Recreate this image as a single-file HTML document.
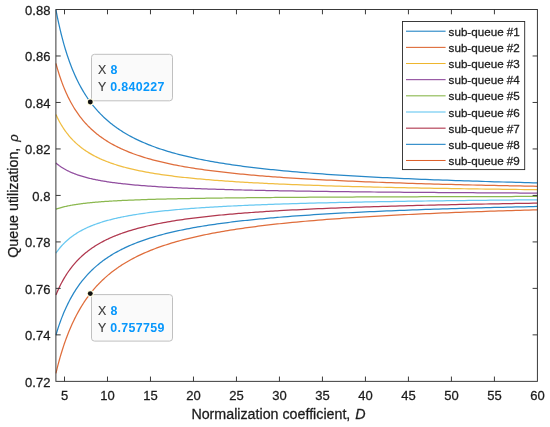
<!DOCTYPE html>
<html><head><meta charset="utf-8"><title>Queue utilization</title>
<style>
html,body{margin:0;padding:0;background:#fff}
svg{display:block}
text{font-family:"Liberation Sans",Arial,Helvetica,sans-serif;fill:#1c1c1c;stroke:#1c1c1c;stroke-width:0.28px}
.t{font-size:13.0px}
.l{font-size:14.25px}
.g{font-size:11.65px}
.d{font-size:12.4px;fill:#3a3a3a;stroke:#3a3a3a;stroke-width:0.15px}
.b{font-weight:bold;fill:#0797fc;stroke:none;letter-spacing:0.35px}
</style></head><body>
<svg width="550" height="427" viewBox="0 0 550 427">
<rect width="550" height="427" fill="#fff"/>
<g fill="none" stroke-width="1.25" stroke-opacity="0.85" stroke-linejoin="round" clip-path="url(#cp)">
<clipPath id="cp"><rect x="55.4" y="9.0" width="482.5" height="372.85"/></clipPath>

<polyline points="55.90,9.52 56.76,14.00 57.62,18.27 58.48,22.35 59.34,26.24 60.20,29.96 61.06,33.52 61.92,36.93 62.78,40.20 63.64,43.34 64.50,46.35 65.36,49.25 66.22,52.03 67.08,54.71 67.94,57.30 68.80,59.79 69.66,62.19 70.52,64.51 71.38,66.75 72.24,68.91 73.10,71.00 73.96,73.03 74.82,74.99 75.68,76.88 76.54,78.72 77.40,80.50 78.26,82.23 79.12,83.91 79.97,85.54 80.83,87.12 81.69,88.66 82.55,90.15 83.41,91.60 84.27,93.02 85.13,94.39 85.99,95.73 86.85,97.03 87.71,98.30 88.57,99.54 89.43,100.75 90.29,101.92 91.15,103.07 92.01,104.19 92.87,105.29 93.73,106.35 94.59,107.39 95.45,108.41 96.31,109.41 97.17,110.38 98.03,111.33 98.89,112.26 99.75,113.17 100.61,114.06 101.47,114.93 102.33,115.78 103.19,116.61 104.05,117.43 104.91,118.23 105.77,119.02 106.63,119.78 107.49,120.54 108.35,121.27 109.21,122.00 110.07,122.71 110.93,123.40 111.79,124.09 112.65,124.76 113.51,125.41 114.37,126.06 115.23,126.69 116.09,127.32 116.95,127.93 117.81,128.53 118.67,129.12 119.53,129.70 120.39,130.26 121.25,130.82 122.11,131.37 122.97,131.91 123.83,132.45 124.69,132.97 126.84,134.24 128.98,135.46 131.13,136.63 133.28,137.76 135.43,138.84 137.58,139.88 139.73,140.89 141.88,141.86 144.03,142.80 146.18,143.70 148.33,144.58 150.48,145.42 152.63,146.24 154.78,147.03 156.93,147.80 159.08,148.54 161.23,149.26 163.38,149.95 165.53,150.63 167.68,151.29 169.83,151.93 171.98,152.55 174.13,153.15 176.28,153.73 178.42,154.30 180.57,154.86 182.72,155.40 184.87,155.92 187.02,156.43 189.17,156.93 191.32,157.42 193.47,157.89 195.62,158.35 197.77,158.81 199.92,159.25 202.07,159.68 204.22,160.10 206.37,160.51 208.52,160.91 210.67,161.30 212.82,161.68 214.97,162.05 217.12,162.42 219.27,162.78 221.42,163.13 223.57,163.47 225.71,163.81 227.86,164.14 230.01,164.46 232.16,164.77 234.31,165.08 236.46,165.38 238.61,165.68 240.76,165.97 242.91,166.26 245.06,166.54 247.21,166.81 249.36,167.08 251.51,167.35 253.66,167.61 255.81,167.86 257.96,168.11 260.11,168.36 262.26,168.60 264.41,168.84 266.56,169.07 268.71,169.30 270.86,169.52 273.00,169.74 275.15,169.96 277.30,170.17 279.45,170.38 283.75,170.79 288.05,171.19 292.35,171.57 296.65,171.95 300.95,172.31 305.25,172.66 309.55,173.00 313.85,173.33 318.15,173.65 322.44,173.96 326.74,174.26 331.04,174.55 335.34,174.84 339.64,175.12 343.94,175.39 348.24,175.65 352.54,175.91 356.84,176.16 361.14,176.40 365.44,176.64 369.73,176.87 374.03,177.09 378.33,177.31 382.63,177.53 386.93,177.74 391.23,177.95 395.53,178.15 399.83,178.34 404.13,178.53 408.43,178.72 412.73,178.91 417.02,179.08 421.32,179.26 425.62,179.43 429.92,179.60 434.22,179.76 438.52,179.93 442.82,180.08 447.12,180.24 451.42,180.39 455.72,180.54 460.02,180.69 464.32,180.83 468.61,180.97 472.91,181.11 477.21,181.24 481.51,181.37 485.81,181.50 490.11,181.63 494.41,181.76 498.71,181.88 503.01,182.00 507.31,182.12 511.61,182.24 515.90,182.35 520.20,182.46 524.50,182.57 528.80,182.68 533.10,182.79 537.40,182.89" stroke="#0072BD"/>
<polyline points="55.90,63.38 56.76,66.48 57.62,69.44 58.48,72.27 59.34,74.97 60.20,77.56 61.06,80.04 61.92,82.41 62.78,84.69 63.64,86.88 64.50,88.99 65.36,91.01 66.22,92.96 67.08,94.84 67.94,96.65 68.80,98.40 69.66,100.08 70.52,101.71 71.38,103.28 72.24,104.80 73.10,106.28 73.96,107.70 74.82,109.08 75.68,110.42 76.54,111.71 77.40,112.97 78.26,114.19 79.12,115.38 79.97,116.53 80.83,117.65 81.69,118.73 82.55,119.79 83.41,120.82 84.27,121.82 85.13,122.79 85.99,123.74 86.85,124.66 87.71,125.57 88.57,126.44 89.43,127.30 90.29,128.13 91.15,128.95 92.01,129.74 92.87,130.52 93.73,131.28 94.59,132.02 95.45,132.75 96.31,133.45 97.17,134.14 98.03,134.82 98.89,135.48 99.75,136.13 100.61,136.76 101.47,137.38 102.33,137.99 103.19,138.59 104.05,139.17 104.91,139.74 105.77,140.30 106.63,140.85 107.49,141.38 108.35,141.91 109.21,142.43 110.07,142.94 110.93,143.43 111.79,143.92 112.65,144.40 113.51,144.87 114.37,145.33 115.23,145.78 116.09,146.23 116.95,146.67 117.81,147.09 118.67,147.52 119.53,147.93 120.39,148.34 121.25,148.74 122.11,149.13 122.97,149.52 123.83,149.90 124.69,150.28 126.84,151.19 128.98,152.06 131.13,152.90 133.28,153.71 135.43,154.48 137.58,155.23 139.73,155.96 141.88,156.65 144.03,157.33 146.18,157.98 148.33,158.60 150.48,159.21 152.63,159.80 154.78,160.37 156.93,160.92 159.08,161.45 161.23,161.97 163.38,162.47 165.53,162.96 167.68,163.43 169.83,163.89 171.98,164.34 174.13,164.77 176.28,165.20 178.42,165.61 180.57,166.01 182.72,166.39 184.87,166.77 187.02,167.14 189.17,167.50 191.32,167.85 193.47,168.19 195.62,168.53 197.77,168.85 199.92,169.17 202.07,169.48 204.22,169.78 206.37,170.08 208.52,170.37 210.67,170.65 212.82,170.93 214.97,171.20 217.12,171.46 219.27,171.72 221.42,171.98 223.57,172.22 225.71,172.47 227.86,172.70 230.01,172.94 232.16,173.16 234.31,173.39 236.46,173.61 238.61,173.82 240.76,174.03 242.91,174.24 245.06,174.44 247.21,174.64 249.36,174.83 251.51,175.03 253.66,175.21 255.81,175.40 257.96,175.58 260.11,175.76 262.26,175.93 264.41,176.10 266.56,176.27 268.71,176.44 270.86,176.60 273.00,176.76 275.15,176.92 277.30,177.07 279.45,177.22 283.75,177.52 288.05,177.81 292.35,178.09 296.65,178.36 300.95,178.62 305.25,178.87 309.55,179.12 313.85,179.36 318.15,179.59 322.44,179.81 326.74,180.03 331.04,180.24 335.34,180.45 339.64,180.65 343.94,180.85 348.24,181.04 352.54,181.23 356.84,181.41 361.14,181.58 365.44,181.76 369.73,181.92 374.03,182.09 378.33,182.25 382.63,182.41 386.93,182.56 391.23,182.71 395.53,182.85 399.83,182.99 404.13,183.13 408.43,183.27 412.73,183.40 417.02,183.53 421.32,183.66 425.62,183.79 429.92,183.91 434.22,184.03 438.52,184.14 442.82,184.26 447.12,184.37 451.42,184.48 455.72,184.59 460.02,184.70 464.32,184.80 468.61,184.90 472.91,185.00 477.21,185.10 481.51,185.20 485.81,185.29 490.11,185.38 494.41,185.47 498.71,185.56 503.01,185.65 507.31,185.74 511.61,185.82 515.90,185.91 520.20,185.99 524.50,186.07 528.80,186.15 533.10,186.22 537.40,186.30" stroke="#D95319"/>
<polyline points="55.90,114.48 56.76,116.34 57.62,118.11 58.48,119.80 59.34,121.42 60.20,122.97 61.06,124.46 61.92,125.89 62.78,127.26 63.64,128.58 64.50,129.85 65.36,131.07 66.22,132.25 67.08,133.39 67.94,134.48 68.80,135.54 69.66,136.56 70.52,137.55 71.38,138.50 72.24,139.42 73.10,140.32 73.96,141.18 74.82,142.02 75.68,142.83 76.54,143.62 77.40,144.39 78.26,145.13 79.12,145.85 79.97,146.56 80.83,147.24 81.69,147.90 82.55,148.55 83.41,149.17 84.27,149.79 85.13,150.38 85.99,150.96 86.85,151.53 87.71,152.08 88.57,152.61 89.43,153.14 90.29,153.65 91.15,154.15 92.01,154.64 92.87,155.11 93.73,155.58 94.59,156.03 95.45,156.48 96.31,156.91 97.17,157.34 98.03,157.75 98.89,158.16 99.75,158.56 100.61,158.95 101.47,159.33 102.33,159.70 103.19,160.07 104.05,160.42 104.91,160.78 105.77,161.12 106.63,161.46 107.49,161.79 108.35,162.11 109.21,162.43 110.07,162.74 110.93,163.05 111.79,163.35 112.65,163.65 113.51,163.94 114.37,164.22 115.23,164.50 116.09,164.77 116.95,165.04 117.81,165.31 118.67,165.57 119.53,165.82 120.39,166.08 121.25,166.32 122.11,166.57 122.97,166.81 123.83,167.04 124.69,167.27 126.84,167.84 128.98,168.38 131.13,168.89 133.28,169.39 135.43,169.88 137.58,170.34 139.73,170.79 141.88,171.22 144.03,171.64 146.18,172.04 148.33,172.43 150.48,172.80 152.63,173.17 154.78,173.52 156.93,173.86 159.08,174.20 161.23,174.52 163.38,174.83 165.53,175.13 167.68,175.43 169.83,175.71 171.98,175.99 174.13,176.26 176.28,176.52 178.42,176.78 180.57,177.02 182.72,177.27 184.87,177.50 187.02,177.73 189.17,177.95 191.32,178.17 193.47,178.39 195.62,178.59 197.77,178.80 199.92,178.99 202.07,179.19 204.22,179.38 206.37,179.56 208.52,179.74 210.67,179.92 212.82,180.09 214.97,180.26 217.12,180.42 219.27,180.58 221.42,180.74 223.57,180.90 225.71,181.05 227.86,181.19 230.01,181.34 232.16,181.48 234.31,181.62 236.46,181.76 238.61,181.89 240.76,182.02 242.91,182.15 245.06,182.28 247.21,182.40 249.36,182.52 251.51,182.64 253.66,182.76 255.81,182.88 257.96,182.99 260.11,183.10 262.26,183.21 264.41,183.32 266.56,183.42 268.71,183.52 270.86,183.63 273.00,183.73 275.15,183.82 277.30,183.92 279.45,184.02 283.75,184.20 288.05,184.38 292.35,184.55 296.65,184.72 300.95,184.89 305.25,185.04 309.55,185.20 313.85,185.35 318.15,185.49 322.44,185.63 326.74,185.77 331.04,185.90 335.34,186.03 339.64,186.16 343.94,186.28 348.24,186.40 352.54,186.52 356.84,186.63 361.14,186.74 365.44,186.85 369.73,186.95 374.03,187.06 378.33,187.16 382.63,187.25 386.93,187.35 391.23,187.44 395.53,187.53 399.83,187.62 404.13,187.71 408.43,187.80 412.73,187.88 417.02,187.96 421.32,188.04 425.62,188.12 429.92,188.20 434.22,188.27 438.52,188.34 442.82,188.42 447.12,188.49 451.42,188.56 455.72,188.62 460.02,188.69 464.32,188.75 468.61,188.82 472.91,188.88 477.21,188.94 481.51,189.00 485.81,189.06 490.11,189.12 494.41,189.18 498.71,189.23 503.01,189.29 507.31,189.34 511.61,189.39 515.90,189.45 520.20,189.50 524.50,189.55 528.80,189.60 533.10,189.65 537.40,189.70" stroke="#EDB120"/>
<polyline points="55.90,163.03 56.76,163.75 57.62,164.44 58.48,165.10 59.34,165.74 60.20,166.35 61.06,166.93 61.92,167.49 62.78,168.03 63.64,168.55 64.50,169.05 65.36,169.53 66.22,170.00 67.08,170.45 67.94,170.88 68.80,171.30 69.66,171.70 70.52,172.09 71.38,172.47 72.24,172.83 73.10,173.19 73.96,173.53 74.82,173.87 75.68,174.19 76.54,174.50 77.40,174.81 78.26,175.10 79.12,175.39 79.97,175.67 80.83,175.94 81.69,176.20 82.55,176.46 83.41,176.71 84.27,176.95 85.13,177.19 85.99,177.42 86.85,177.65 87.71,177.87 88.57,178.08 89.43,178.29 90.29,178.50 91.15,178.70 92.01,178.89 92.87,179.08 93.73,179.27 94.59,179.45 95.45,179.63 96.31,179.80 97.17,179.97 98.03,180.14 98.89,180.30 99.75,180.46 100.61,180.62 101.47,180.77 102.33,180.92 103.19,181.07 104.05,181.21 104.91,181.35 105.77,181.49 106.63,181.63 107.49,181.76 108.35,181.89 109.21,182.02 110.07,182.15 110.93,182.27 111.79,182.39 112.65,182.51 113.51,182.62 114.37,182.74 115.23,182.85 116.09,182.96 116.95,183.07 117.81,183.18 118.67,183.28 119.53,183.39 120.39,183.49 121.25,183.59 122.11,183.68 122.97,183.78 123.83,183.88 124.69,183.97 126.84,184.20 128.98,184.41 131.13,184.62 133.28,184.83 135.43,185.02 137.58,185.21 139.73,185.39 141.88,185.56 144.03,185.73 146.18,185.89 148.33,186.05 150.48,186.20 152.63,186.35 154.78,186.49 156.93,186.63 159.08,186.77 161.23,186.90 163.38,187.02 165.53,187.15 167.68,187.27 169.83,187.38 171.98,187.49 174.13,187.60 176.28,187.71 178.42,187.81 180.57,187.91 182.72,188.01 184.87,188.11 187.02,188.20 189.17,188.29 191.32,188.38 193.47,188.47 195.62,188.55 197.77,188.63 199.92,188.71 202.07,188.79 204.22,188.87 206.37,188.94 208.52,189.02 210.67,189.09 212.82,189.16 214.97,189.23 217.12,189.29 219.27,189.36 221.42,189.42 223.57,189.49 225.71,189.55 227.86,189.61 230.01,189.67 232.16,189.73 234.31,189.78 236.46,189.84 238.61,189.89 240.76,189.95 242.91,190.00 245.06,190.05 247.21,190.10 249.36,190.15 251.51,190.20 253.66,190.25 255.81,190.29 257.96,190.34 260.11,190.38 262.26,190.43 264.41,190.47 266.56,190.52 268.71,190.56 270.86,190.60 273.00,190.64 275.15,190.68 277.30,190.72 279.45,190.76 283.75,190.83 288.05,190.91 292.35,190.98 296.65,191.05 300.95,191.11 305.25,191.18 309.55,191.24 313.85,191.30 318.15,191.36 322.44,191.42 326.74,191.47 331.04,191.53 335.34,191.58 339.64,191.63 343.94,191.68 348.24,191.73 352.54,191.78 356.84,191.82 361.14,191.87 365.44,191.91 369.73,191.96 374.03,192.00 378.33,192.04 382.63,192.08 386.93,192.12 391.23,192.16 395.53,192.19 399.83,192.23 404.13,192.27 408.43,192.30 412.73,192.33 417.02,192.37 421.32,192.40 425.62,192.43 429.92,192.46 434.22,192.49 438.52,192.52 442.82,192.55 447.12,192.58 451.42,192.61 455.72,192.64 460.02,192.67 464.32,192.69 468.61,192.72 472.91,192.74 477.21,192.77 481.51,192.79 485.81,192.82 490.11,192.84 494.41,192.86 498.71,192.89 503.01,192.91 507.31,192.93 511.61,192.95 515.90,192.98 520.20,193.00 524.50,193.02 528.80,193.04 533.10,193.06 537.40,193.08" stroke="#7E2F8E"/>
<polyline points="55.90,209.20 56.76,208.90 57.62,208.61 58.48,208.34 59.34,208.07 60.20,207.82 61.06,207.57 61.92,207.34 62.78,207.11 63.64,206.90 64.50,206.69 65.36,206.49 66.22,206.29 67.08,206.10 67.94,205.92 68.80,205.75 69.66,205.58 70.52,205.41 71.38,205.25 72.24,205.10 73.10,204.95 73.96,204.81 74.82,204.67 75.68,204.53 76.54,204.40 77.40,204.27 78.26,204.14 79.12,204.02 79.97,203.90 80.83,203.79 81.69,203.68 82.55,203.57 83.41,203.46 84.27,203.36 85.13,203.26 85.99,203.16 86.85,203.07 87.71,202.97 88.57,202.88 89.43,202.79 90.29,202.71 91.15,202.62 92.01,202.54 92.87,202.46 93.73,202.38 94.59,202.30 95.45,202.22 96.31,202.15 97.17,202.08 98.03,202.01 98.89,201.94 99.75,201.87 100.61,201.80 101.47,201.74 102.33,201.67 103.19,201.61 104.05,201.55 104.91,201.49 105.77,201.43 106.63,201.37 107.49,201.32 108.35,201.26 109.21,201.21 110.07,201.15 110.93,201.10 111.79,201.05 112.65,201.00 113.51,200.95 114.37,200.90 115.23,200.85 116.09,200.80 116.95,200.76 117.81,200.71 118.67,200.67 119.53,200.62 120.39,200.58 121.25,200.54 122.11,200.49 122.97,200.45 123.83,200.41 124.69,200.37 126.84,200.28 128.98,200.18 131.13,200.09 133.28,200.01 135.43,199.92 137.58,199.84 139.73,199.76 141.88,199.69 144.03,199.62 146.18,199.55 148.33,199.48 150.48,199.41 152.63,199.35 154.78,199.29 156.93,199.23 159.08,199.17 161.23,199.12 163.38,199.06 165.53,199.01 167.68,198.96 169.83,198.91 171.98,198.86 174.13,198.81 176.28,198.77 178.42,198.72 180.57,198.68 182.72,198.64 184.87,198.60 187.02,198.56 189.17,198.52 191.32,198.48 193.47,198.44 195.62,198.40 197.77,198.37 199.92,198.33 202.07,198.30 204.22,198.27 206.37,198.23 208.52,198.20 210.67,198.17 212.82,198.14 214.97,198.11 217.12,198.08 219.27,198.06 221.42,198.03 223.57,198.00 225.71,197.97 227.86,197.95 230.01,197.92 232.16,197.90 234.31,197.87 236.46,197.85 238.61,197.83 240.76,197.80 242.91,197.78 245.06,197.76 247.21,197.74 249.36,197.71 251.51,197.69 253.66,197.67 255.81,197.65 257.96,197.63 260.11,197.61 262.26,197.59 264.41,197.57 266.56,197.56 268.71,197.54 270.86,197.52 273.00,197.50 275.15,197.49 277.30,197.47 279.45,197.45 283.75,197.42 288.05,197.39 292.35,197.36 296.65,197.33 300.95,197.30 305.25,197.27 309.55,197.24 313.85,197.22 318.15,197.19 322.44,197.17 326.74,197.14 331.04,197.12 335.34,197.10 339.64,197.07 343.94,197.05 348.24,197.03 352.54,197.01 356.84,196.99 361.14,196.97 365.44,196.95 369.73,196.93 374.03,196.91 378.33,196.90 382.63,196.88 386.93,196.86 391.23,196.85 395.53,196.83 399.83,196.81 404.13,196.80 408.43,196.78 412.73,196.77 417.02,196.75 421.32,196.74 425.62,196.73 429.92,196.71 434.22,196.70 438.52,196.69 442.82,196.67 447.12,196.66 451.42,196.65 455.72,196.64 460.02,196.62 464.32,196.61 468.61,196.60 472.91,196.59 477.21,196.58 481.51,196.57 485.81,196.56 490.11,196.55 494.41,196.54 498.71,196.53 503.01,196.52 507.31,196.51 511.61,196.50 515.90,196.49 520.20,196.48 524.50,196.47 528.80,196.46 533.10,196.45 537.40,196.45" stroke="#77AC30"/>
<polyline points="55.90,253.17 56.76,251.94 57.62,250.76 58.48,249.63 59.34,248.55 60.20,247.50 61.06,246.50 61.92,245.54 62.78,244.61 63.64,243.71 64.50,242.85 65.36,242.02 66.22,241.21 67.08,240.44 67.94,239.69 68.80,238.96 69.66,238.26 70.52,237.58 71.38,236.92 72.24,236.28 73.10,235.66 73.96,235.06 74.82,234.47 75.68,233.91 76.54,233.36 77.40,232.82 78.26,232.30 79.12,231.80 79.97,231.31 80.83,230.83 81.69,230.36 82.55,229.91 83.41,229.46 84.27,229.03 85.13,228.61 85.99,228.20 86.85,227.80 87.71,227.41 88.57,227.03 89.43,226.66 90.29,226.30 91.15,225.94 92.01,225.59 92.87,225.25 93.73,224.92 94.59,224.60 95.45,224.28 96.31,223.97 97.17,223.67 98.03,223.37 98.89,223.08 99.75,222.79 100.61,222.51 101.47,222.24 102.33,221.97 103.19,221.71 104.05,221.45 104.91,221.20 105.77,220.95 106.63,220.71 107.49,220.47 108.35,220.23 109.21,220.00 110.07,219.78 110.93,219.56 111.79,219.34 112.65,219.13 113.51,218.92 114.37,218.71 115.23,218.51 116.09,218.31 116.95,218.11 117.81,217.92 118.67,217.73 119.53,217.55 120.39,217.36 121.25,217.18 122.11,217.01 122.97,216.83 123.83,216.66 124.69,216.49 126.84,216.08 128.98,215.69 131.13,215.31 133.28,214.94 135.43,214.59 137.58,214.25 139.73,213.92 141.88,213.60 144.03,213.30 146.18,213.00 148.33,212.72 150.48,212.44 152.63,212.17 154.78,211.91 156.93,211.66 159.08,211.41 161.23,211.18 163.38,210.95 165.53,210.72 167.68,210.51 169.83,210.29 171.98,210.09 174.13,209.89 176.28,209.69 178.42,209.50 180.57,209.32 182.72,209.14 184.87,208.97 187.02,208.80 189.17,208.63 191.32,208.47 193.47,208.31 195.62,208.15 197.77,208.00 199.92,207.86 202.07,207.71 204.22,207.57 206.37,207.43 208.52,207.30 210.67,207.17 212.82,207.04 214.97,206.91 217.12,206.79 219.27,206.67 221.42,206.55 223.57,206.44 225.71,206.32 227.86,206.21 230.01,206.10 232.16,206.00 234.31,205.89 236.46,205.79 238.61,205.69 240.76,205.59 242.91,205.50 245.06,205.40 247.21,205.31 249.36,205.22 251.51,205.13 253.66,205.04 255.81,204.95 257.96,204.87 260.11,204.79 262.26,204.70 264.41,204.62 266.56,204.54 268.71,204.47 270.86,204.39 273.00,204.32 275.15,204.24 277.30,204.17 279.45,204.10 283.75,203.96 288.05,203.82 292.35,203.69 296.65,203.57 300.95,203.44 305.25,203.32 309.55,203.21 313.85,203.09 318.15,202.99 322.44,202.88 326.74,202.78 331.04,202.68 335.34,202.58 339.64,202.48 343.94,202.39 348.24,202.30 352.54,202.21 356.84,202.13 361.14,202.04 365.44,201.96 369.73,201.88 374.03,201.80 378.33,201.73 382.63,201.65 386.93,201.58 391.23,201.51 395.53,201.44 399.83,201.37 404.13,201.31 408.43,201.24 412.73,201.18 417.02,201.12 421.32,201.06 425.62,201.00 429.92,200.94 434.22,200.89 438.52,200.83 442.82,200.77 447.12,200.72 451.42,200.67 455.72,200.62 460.02,200.57 464.32,200.52 468.61,200.47 472.91,200.42 477.21,200.38 481.51,200.33 485.81,200.28 490.11,200.24 494.41,200.20 498.71,200.16 503.01,200.11 507.31,200.07 511.61,200.03 515.90,199.99 520.20,199.95 524.50,199.91 528.80,199.88 533.10,199.84 537.40,199.80" stroke="#4DBEEE"/>
<polyline points="55.90,295.10 56.76,293.02 57.62,291.03 58.48,289.12 59.34,287.29 60.20,285.52 61.06,283.82 61.92,282.19 62.78,280.61 63.64,279.09 64.50,277.62 65.36,276.21 66.22,274.84 67.08,273.52 67.94,272.24 68.80,271.00 69.66,269.80 70.52,268.64 71.38,267.51 72.24,266.42 73.10,265.36 73.96,264.34 74.82,263.34 75.68,262.37 76.54,261.43 77.40,260.51 78.26,259.62 79.12,258.75 79.97,257.91 80.83,257.09 81.69,256.29 82.55,255.51 83.41,254.75 84.27,254.00 85.13,253.28 85.99,252.58 86.85,251.89 87.71,251.22 88.57,250.56 89.43,249.92 90.29,249.29 91.15,248.68 92.01,248.08 92.87,247.50 93.73,246.93 94.59,246.37 95.45,245.82 96.31,245.28 97.17,244.76 98.03,244.25 98.89,243.74 99.75,243.25 100.61,242.77 101.47,242.29 102.33,241.83 103.19,241.37 104.05,240.93 104.91,240.49 105.77,240.06 106.63,239.64 107.49,239.23 108.35,238.82 109.21,238.42 110.07,238.03 110.93,237.65 111.79,237.27 112.65,236.90 113.51,236.54 114.37,236.18 115.23,235.83 116.09,235.49 116.95,235.15 117.81,234.81 118.67,234.48 119.53,234.16 120.39,233.84 121.25,233.53 122.11,233.23 122.97,232.92 123.83,232.63 124.69,232.33 126.84,231.62 128.98,230.93 131.13,230.28 133.28,229.64 135.43,229.03 137.58,228.43 139.73,227.86 141.88,227.31 144.03,226.78 146.18,226.26 148.33,225.76 150.48,225.28 152.63,224.81 154.78,224.36 156.93,223.92 159.08,223.49 161.23,223.08 163.38,222.68 165.53,222.29 167.68,221.91 169.83,221.54 171.98,221.18 174.13,220.83 176.28,220.49 178.42,220.16 180.57,219.84 182.72,219.53 184.87,219.22 187.02,218.92 189.17,218.63 191.32,218.35 193.47,218.07 195.62,217.80 197.77,217.54 199.92,217.28 202.07,217.03 204.22,216.78 206.37,216.54 208.52,216.31 210.67,216.08 212.82,215.85 214.97,215.63 217.12,215.42 219.27,215.21 221.42,215.00 223.57,214.80 225.71,214.60 227.86,214.40 230.01,214.21 232.16,214.03 234.31,213.85 236.46,213.67 238.61,213.49 240.76,213.32 242.91,213.15 245.06,212.98 247.21,212.82 249.36,212.66 251.51,212.50 253.66,212.35 255.81,212.20 257.96,212.05 260.11,211.90 262.26,211.76 264.41,211.62 266.56,211.48 268.71,211.34 270.86,211.21 273.00,211.08 275.15,210.95 277.30,210.82 279.45,210.70 283.75,210.45 288.05,210.21 292.35,209.98 296.65,209.76 300.95,209.55 305.25,209.34 309.55,209.13 313.85,208.94 318.15,208.74 322.44,208.56 326.74,208.38 331.04,208.20 335.34,208.03 339.64,207.86 343.94,207.70 348.24,207.54 352.54,207.38 356.84,207.23 361.14,207.09 365.44,206.94 369.73,206.80 374.03,206.67 378.33,206.53 382.63,206.40 386.93,206.28 391.23,206.15 395.53,206.03 399.83,205.91 404.13,205.80 408.43,205.68 412.73,205.57 417.02,205.46 421.32,205.36 425.62,205.25 429.92,205.15 434.22,205.05 438.52,204.95 442.82,204.86 447.12,204.76 451.42,204.67 455.72,204.58 460.02,204.49 464.32,204.41 468.61,204.32 472.91,204.24 477.21,204.16 481.51,204.08 485.81,204.00 490.11,203.92 494.41,203.84 498.71,203.77 503.01,203.69 507.31,203.62 511.61,203.55 515.90,203.48 520.20,203.41 524.50,203.34 528.80,203.28 533.10,203.21 537.40,203.15" stroke="#A2142F"/>
<polyline points="55.90,335.12 56.76,332.27 57.62,329.54 58.48,326.92 59.34,324.40 60.20,321.97 61.06,319.63 61.92,317.38 62.78,315.21 63.64,313.11 64.50,311.09 65.36,309.13 66.22,307.24 67.08,305.41 67.94,303.64 68.80,301.93 69.66,300.27 70.52,298.66 71.38,297.10 72.24,295.58 73.10,294.11 73.96,292.69 74.82,291.30 75.68,289.95 76.54,288.64 77.40,287.37 78.26,286.13 79.12,284.92 79.97,283.74 80.83,282.60 81.69,281.48 82.55,280.40 83.41,279.34 84.27,278.30 85.13,277.29 85.99,276.31 86.85,275.35 87.71,274.41 88.57,273.49 89.43,272.59 90.29,271.72 91.15,270.86 92.01,270.03 92.87,269.21 93.73,268.41 94.59,267.62 95.45,266.86 96.31,266.11 97.17,265.37 98.03,264.65 98.89,263.94 99.75,263.25 100.61,262.58 101.47,261.91 102.33,261.26 103.19,260.62 104.05,260.00 104.91,259.38 105.77,258.78 106.63,258.19 107.49,257.61 108.35,257.04 109.21,256.48 110.07,255.93 110.93,255.39 111.79,254.86 112.65,254.34 113.51,253.83 114.37,253.32 115.23,252.83 116.09,252.34 116.95,251.87 117.81,251.40 118.67,250.94 119.53,250.48 120.39,250.03 121.25,249.59 122.11,249.16 122.97,248.73 123.83,248.32 124.69,247.90 126.84,246.90 128.98,245.93 131.13,245.00 133.28,244.10 135.43,243.24 137.58,242.40 139.73,241.60 141.88,240.82 144.03,240.06 146.18,239.34 148.33,238.63 150.48,237.95 152.63,237.29 154.78,236.64 156.93,236.02 159.08,235.42 161.23,234.83 163.38,234.26 165.53,233.71 167.68,233.17 169.83,232.65 171.98,232.14 174.13,231.65 176.28,231.17 178.42,230.70 180.57,230.24 182.72,229.80 184.87,229.36 187.02,228.94 189.17,228.53 191.32,228.12 193.47,227.73 195.62,227.35 197.77,226.97 199.92,226.61 202.07,226.25 204.22,225.90 206.37,225.56 208.52,225.23 210.67,224.90 212.82,224.58 214.97,224.27 217.12,223.96 219.27,223.66 221.42,223.37 223.57,223.08 225.71,222.80 227.86,222.52 230.01,222.25 232.16,221.99 234.31,221.73 236.46,221.47 238.61,221.22 240.76,220.98 242.91,220.74 245.06,220.50 247.21,220.27 249.36,220.04 251.51,219.82 253.66,219.60 255.81,219.39 257.96,219.17 260.11,218.97 262.26,218.76 264.41,218.56 266.56,218.36 268.71,218.17 270.86,217.98 273.00,217.79 275.15,217.61 277.30,217.43 279.45,217.25 283.75,216.90 288.05,216.56 292.35,216.23 296.65,215.92 300.95,215.61 305.25,215.31 309.55,215.02 313.85,214.74 318.15,214.47 322.44,214.20 326.74,213.94 331.04,213.69 335.34,213.45 339.64,213.21 343.94,212.98 348.24,212.75 352.54,212.53 356.84,212.31 361.14,212.10 365.44,211.90 369.73,211.70 374.03,211.51 378.33,211.32 382.63,211.13 386.93,210.95 391.23,210.77 395.53,210.60 399.83,210.43 404.13,210.26 408.43,210.10 412.73,209.94 417.02,209.79 421.32,209.64 425.62,209.49 429.92,209.34 434.22,209.20 438.52,209.06 442.82,208.92 447.12,208.79 451.42,208.66 455.72,208.53 460.02,208.40 464.32,208.28 468.61,208.16 472.91,208.04 477.21,207.92 481.51,207.81 485.81,207.69 490.11,207.58 494.41,207.47 498.71,207.37 503.01,207.26 507.31,207.16 511.61,207.06 515.90,206.96 520.20,206.86 524.50,206.76 528.80,206.67 533.10,206.57 537.40,206.48" stroke="#0072BD"/>
<polyline points="55.90,373.36 56.76,369.81 57.62,366.41 58.48,363.14 59.34,359.99 60.20,356.95 61.06,354.03 61.92,351.21 62.78,348.48 63.64,345.86 64.50,343.32 65.36,340.86 66.22,338.49 67.08,336.19 67.94,333.96 68.80,331.80 69.66,329.71 70.52,327.69 71.38,325.72 72.24,323.81 73.10,321.95 73.96,320.15 74.82,318.40 75.68,316.70 76.54,315.04 77.40,313.43 78.26,311.86 79.12,310.34 79.97,308.85 80.83,307.40 81.69,305.98 82.55,304.61 83.41,303.26 84.27,301.95 85.13,300.67 85.99,299.42 86.85,298.20 87.71,297.01 88.57,295.85 89.43,294.71 90.29,293.59 91.15,292.51 92.01,291.44 92.87,290.40 93.73,289.38 94.59,288.39 95.45,287.41 96.31,286.45 97.17,285.52 98.03,284.60 98.89,283.70 99.75,282.82 100.61,281.96 101.47,281.11 102.33,280.28 103.19,279.47 104.05,278.67 104.91,277.88 105.77,277.12 106.63,276.36 107.49,275.62 108.35,274.89 109.21,274.18 110.07,273.48 110.93,272.79 111.79,272.11 112.65,271.44 113.51,270.79 114.37,270.15 115.23,269.52 116.09,268.89 116.95,268.28 117.81,267.68 118.67,267.09 119.53,266.51 120.39,265.94 121.25,265.37 122.11,264.82 122.97,264.27 123.83,263.74 124.69,263.21 126.84,261.92 128.98,260.68 131.13,259.49 133.28,258.34 135.43,257.23 137.58,256.16 139.73,255.12 141.88,254.12 144.03,253.16 146.18,252.22 148.33,251.32 150.48,250.44 152.63,249.59 154.78,248.76 156.93,247.96 159.08,247.19 161.23,246.43 163.38,245.70 165.53,244.99 167.68,244.30 169.83,243.63 171.98,242.97 174.13,242.34 176.28,241.72 178.42,241.11 180.57,240.52 182.72,239.95 184.87,239.39 187.02,238.85 189.17,238.32 191.32,237.80 193.47,237.29 195.62,236.80 197.77,236.31 199.92,235.84 202.07,235.38 204.22,234.93 206.37,234.49 208.52,234.06 210.67,233.64 212.82,233.23 214.97,232.82 217.12,232.43 219.27,232.04 221.42,231.66 223.57,231.29 225.71,230.93 227.86,230.57 230.01,230.22 232.16,229.88 234.31,229.55 236.46,229.22 238.61,228.89 240.76,228.58 242.91,228.27 245.06,227.96 247.21,227.66 249.36,227.37 251.51,227.08 253.66,226.80 255.81,226.52 257.96,226.24 260.11,225.98 262.26,225.71 264.41,225.45 266.56,225.20 268.71,224.95 270.86,224.70 273.00,224.46 275.15,224.22 277.30,223.98 279.45,223.75 283.75,223.30 288.05,222.87 292.35,222.44 296.65,222.03 300.95,221.63 305.25,221.25 309.55,220.87 313.85,220.51 318.15,220.15 322.44,219.81 326.74,219.48 331.04,219.15 335.34,218.83 339.64,218.52 343.94,218.22 348.24,217.93 352.54,217.64 356.84,217.37 361.14,217.10 365.44,216.83 369.73,216.57 374.03,216.32 378.33,216.07 382.63,215.83 386.93,215.60 391.23,215.37 395.53,215.14 399.83,214.92 404.13,214.71 408.43,214.50 412.73,214.29 417.02,214.09 421.32,213.90 425.62,213.70 429.92,213.52 434.22,213.33 438.52,213.15 442.82,212.97 447.12,212.80 451.42,212.63 455.72,212.46 460.02,212.30 464.32,212.13 468.61,211.98 472.91,211.82 477.21,211.67 481.51,211.52 485.81,211.37 490.11,211.23 494.41,211.09 498.71,210.95 503.01,210.81 507.31,210.68 511.61,210.55 515.90,210.42 520.20,210.29 524.50,210.17 528.80,210.04 533.10,209.92 537.40,209.80" stroke="#D95319"/>
</g>
<g stroke="#303030" stroke-width="0.95" fill="none"><rect x="55.9" y="9.5" width="481.5" height="371.85"/>
<path d="M64.50 381.35v-4.8M64.50 9.5v4.8"/>
<path d="M107.49 381.35v-4.8M107.49 9.5v4.8"/>
<path d="M150.48 381.35v-4.8M150.48 9.5v4.8"/>
<path d="M193.47 381.35v-4.8M193.47 9.5v4.8"/>
<path d="M236.46 381.35v-4.8M236.46 9.5v4.8"/>
<path d="M279.45 381.35v-4.8M279.45 9.5v4.8"/>
<path d="M322.44 381.35v-4.8M322.44 9.5v4.8"/>
<path d="M365.44 381.35v-4.8M365.44 9.5v4.8"/>
<path d="M408.43 381.35v-4.8M408.43 9.5v4.8"/>
<path d="M451.42 381.35v-4.8M451.42 9.5v4.8"/>
<path d="M494.41 381.35v-4.8M494.41 9.5v4.8"/>
<path d="M55.9 334.87h4.8M537.4 334.87h-4.8"/>
<path d="M55.9 288.39h4.8M537.4 288.39h-4.8"/>
<path d="M55.9 241.91h4.8M537.4 241.91h-4.8"/>
<path d="M55.9 195.43h4.8M537.4 195.43h-4.8"/>
<path d="M55.9 148.94h4.8M537.4 148.94h-4.8"/>
<path d="M55.9 102.46h4.8M537.4 102.46h-4.8"/>
<path d="M55.9 55.98h4.8M537.4 55.98h-4.8"/>
</g>
<g class="t" text-anchor="middle">
<text x="64.5" y="400.2">5</text>
<text x="107.5" y="400.2">10</text>
<text x="150.5" y="400.2">15</text>
<text x="193.5" y="400.2">20</text>
<text x="236.5" y="400.2">25</text>
<text x="279.5" y="400.2">30</text>
<text x="322.4" y="400.2">35</text>
<text x="365.4" y="400.2">40</text>
<text x="408.4" y="400.2">45</text>
<text x="451.4" y="400.2">50</text>
<text x="494.4" y="400.2">55</text>
<text x="537.4" y="400.2">60</text>
</g><g class="t" text-anchor="end">
<text x="50.4" y="386.6">0.72</text>
<text x="50.4" y="340.1">0.74</text>
<text x="50.4" y="293.6">0.76</text>
<text x="50.4" y="247.1">0.78</text>
<text x="50.4" y="200.6">0.8</text>
<text x="50.4" y="154.1">0.82</text>
<text x="50.4" y="107.7">0.84</text>
<text x="50.4" y="61.2">0.86</text>
<text x="50.4" y="14.7">0.88</text>
</g>
<text class="l" x="191.4" y="419.2">Normalization coefficient,</text><text class="l" x="355.2" y="419.2" font-style="italic">D</text>
<text class="l" transform="translate(17.8 196.0) rotate(-90)" text-anchor="middle">Queue utilization,<tspan font-style="italic" font-size="13" dx="6">ρ</tspan></text>
<rect x="402.45" y="21.5" width="122.25" height="148.1" fill="#fff" stroke="#262626" stroke-width="0.9"/>
<path d="M406.0 31.20H445.6" stroke="#0072BD" stroke-width="0.95"/><text class="g" x="448.6" y="35.80">sub-queue #1</text>
<path d="M406.0 47.36H445.6" stroke="#D95319" stroke-width="0.95"/><text class="g" x="448.6" y="51.96">sub-queue #2</text>
<path d="M406.0 63.52H445.6" stroke="#EDB120" stroke-width="0.95"/><text class="g" x="448.6" y="68.12">sub-queue #3</text>
<path d="M406.0 79.68H445.6" stroke="#7E2F8E" stroke-width="0.95"/><text class="g" x="448.6" y="84.28">sub-queue #4</text>
<path d="M406.0 95.84H445.6" stroke="#77AC30" stroke-width="0.95"/><text class="g" x="448.6" y="100.44">sub-queue #5</text>
<path d="M406.0 112.00H445.6" stroke="#4DBEEE" stroke-width="0.95"/><text class="g" x="448.6" y="116.60">sub-queue #6</text>
<path d="M406.0 128.16H445.6" stroke="#A2142F" stroke-width="0.95"/><text class="g" x="448.6" y="132.76">sub-queue #7</text>
<path d="M406.0 144.32H445.6" stroke="#0072BD" stroke-width="0.95"/><text class="g" x="448.6" y="148.92">sub-queue #8</text>
<path d="M406.0 160.48H445.6" stroke="#D95319" stroke-width="0.95"/><text class="g" x="448.6" y="165.08">sub-queue #9</text>
<path d="M94.5 54.3H169.5A3 3 0 0 1 172.5 57.3V97.8A3 3 0 0 1 169.5 100.8H91.5V57.3A3 3 0 0 1 94.5 54.3Z" fill="#fafafa" stroke="#c0c0c0" stroke-width="1"/>
<circle cx="90.29" cy="101.93" r="3.5" fill="#fffce0"/><circle cx="90.29" cy="101.93" r="2.45" fill="#111"/>
<text class="d" x="98.0" y="74.4">X <tspan class="b" dx="0.8">8</tspan></text>
<text class="d" x="98.0" y="91.3">Y <tspan class="b" dx="0.8">0.840227</tspan></text>
<path d="M91.5 294.6H169.5A3 3 0 0 1 172.5 297.6V338.1A3 3 0 0 1 169.5 341.1H94.5A3 3 0 0 1 91.5 338.1Z" fill="#fafafa" stroke="#c0c0c0" stroke-width="1"/>
<circle cx="90.29" cy="293.60" r="3.5" fill="#fffce0"/><circle cx="90.29" cy="293.60" r="2.45" fill="#111"/>
<text class="d" x="98.0" y="314.70000000000005">X <tspan class="b" dx="0.8">8</tspan></text>
<text class="d" x="98.0" y="331.6">Y <tspan class="b" dx="0.8">0.757759</tspan></text>
</svg></body></html>
